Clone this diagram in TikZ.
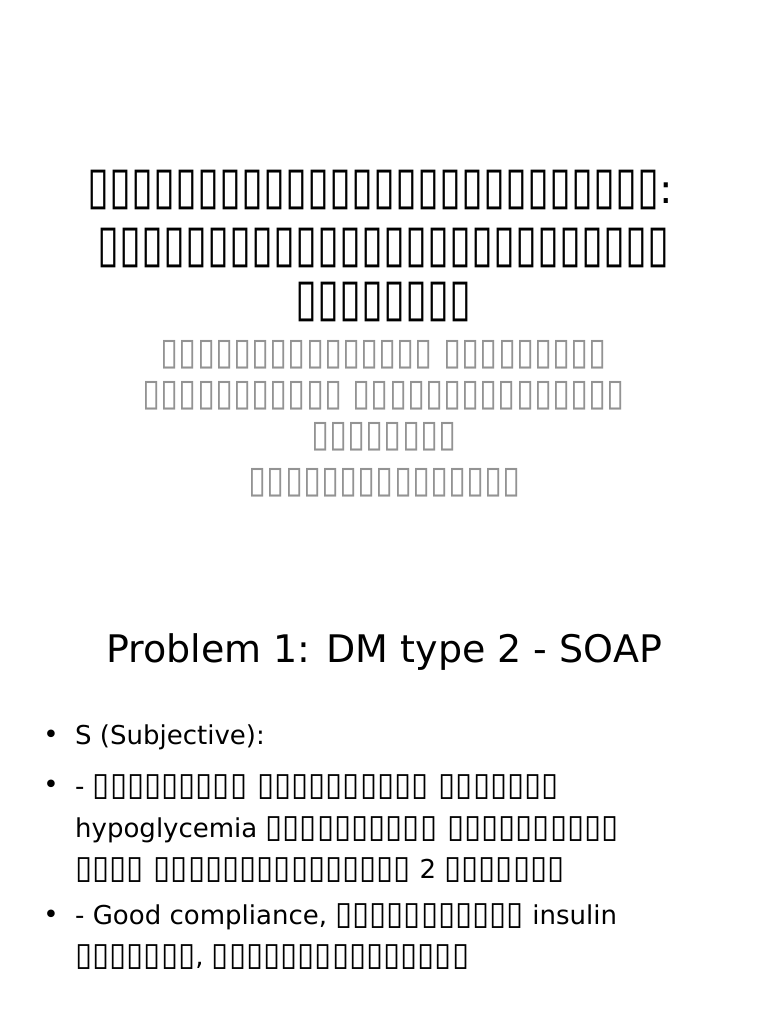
\documentclass[tikz,border=0pt]{standalone}
\usepackage{fontspec}
\setmainfont{DejaVu Sans}
\newcommand\bxa[1]{\scalebox{1.0}[1.3]{#1}}
\newcommand\bxs[1]{\scalebox{1.1}[1.25]{#1}}
\newcommand\bxb[1]{\scalebox{1.2}[1.25]{#1}}
\begin{document}
\begin{tikzpicture}[x=1pt,y=-1pt,
 ttl/.style={font=\fontsize{40}{44}\selectfont,anchor=center,inner sep=0},
 sub/.style={font=\fontsize{30}{34}\selectfont,text=gray!85,anchor=center,inner sep=0},
 bl/.style={font=\fontsize{26}{30}\selectfont,anchor=west,inner sep=0}]
\useasboundingbox (0,0) rectangle (768,1024);
\fill[white] (0,0) rectangle (768,1024);
\node[ttl] (t1) at (380,190) {\bxa{▯▯▯▯▯▯▯▯▯▯▯▯▯▯▯▯▯▯▯▯▯▯▯▯▯▯}:};
\node[ttl] (t2) at (384,248) {\bxa{▯▯▯▯▯▯▯▯▯▯▯▯▯▯▯▯▯▯▯▯▯▯▯▯▯▯}};
\node[ttl] (t3) at (384,302) {\bxa{▯▯▯▯▯▯▯▯}};
\node[sub] (s1) at (384,355) {\bxs{▯▯▯▯▯▯▯▯▯▯▯▯▯▯▯ ▯▯▯▯▯▯▯▯▯}};
\node[sub] (s2) at (384,396) {\bxs{▯▯▯▯▯▯▯▯▯▯▯ ▯▯▯▯▯▯▯▯▯▯▯▯▯▯▯}};
\node[sub] (s3) at (384,437) {\bxs{▯▯▯▯▯▯▯▯}};
\node[sub] (s4) at (385,483) {\bxs{▯▯▯▯▯▯▯▯▯▯▯▯▯▯▯}};
\node[font=\fontsize{38}{42}\selectfont,inner sep=0] (p) at (384,652) {Problem 1: DM type 2 - SOAP};
\foreach \y/\n in {737/d1,787/d2,917/d3}
  \node[bl,anchor=center] (\n) at (51,\y) {•};
\node[bl] (b1) at (75,737) {S (Subjective):};
\node[bl] (b2) at (75,787) {- \bxb{▯▯▯▯▯▯▯▯▯ ▯▯▯▯▯▯▯▯▯▯ ▯▯▯▯▯▯▯}};
\node[bl] (b3) at (75,830) {hypoglycemia \bxb{▯▯▯▯▯▯▯▯▯▯ ▯▯▯▯▯▯▯▯▯▯}};
\node[bl] (b4) at (75,870) {\bxb{▯▯▯▯ ▯▯▯▯▯▯▯▯▯▯▯▯▯▯▯} 2 \bxb{▯▯▯▯▯▯▯}};
\node[bl] (b5) at (75,917) {- Good compliance, \bxb{▯▯▯▯▯▯▯▯▯▯▯} insulin};
\node[bl] (b6) at (75,957) {\bxb{▯▯▯▯▯▯▯}, \bxb{▯▯▯▯▯▯▯▯▯▯▯▯▯▯▯}};
\end{tikzpicture}
\end{document}
